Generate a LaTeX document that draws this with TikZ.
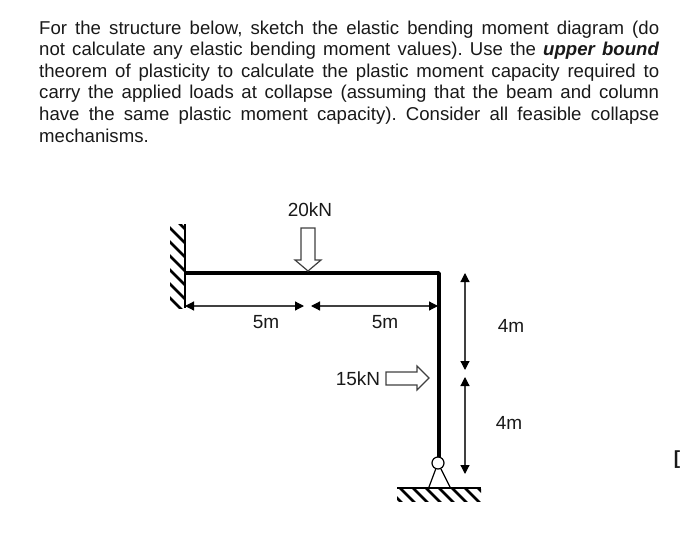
\documentclass[tikz,border=0pt]{standalone}
\usepackage{fontspec}
\setmainfont{Liberation Sans}
\usetikzlibrary{arrows.meta}

\tikzset{
  frame/.style={line width=3.4pt,line join=round},
  dim/.style={line width=1.2pt,draw=black!75,{Triangle[length=9pt,width=9pt,color=black]}-{Triangle[length=9pt,width=9pt,color=black]}},
  hatch/.style={line width=2.6pt},
  load/.style={line width=1.2pt,draw=black!75,fill=white,line join=miter},
  lbl/.style={font=\fontsize{19}{21}\selectfont,text=black!90,inner sep=0pt}
}

\begin{document}
\begin{tikzpicture}[x=1pt,y=-1pt]
      \useasboundingbox (0,0) rectangle (681,538);

      \node[anchor=north west,inner sep=0pt,text width=620pt,align=justify,text=black!90,
            font=\frenchspacing\fontsize{18.6}{21.6}\selectfont] (question) at (39,20.5)
        {For the structure below, sketch the elastic bending moment diagram (do\linebreak
         not calculate any elastic bending moment values). Use the \textbf{\textit{upper bound}}\linebreak
         theorem of plasticity to calculate the plastic moment capacity required to\linebreak
         carry the applied loads at collapse (assuming that the beam and column\linebreak
         have the same plastic moment capacity). Consider all feasible collapse\linebreak
         mechanisms.};

      \coordinate (wall-top)    at (185,224);
      \coordinate (wall-bot)    at (185,308);
      \coordinate (beam-left)   at (185,273);
      \coordinate (beam-right)  at (439,273);
      \coordinate (column-bot)  at (439,457);
      \node[draw,circle,line width=1.2pt,fill=white,minimum size=12pt,inner sep=0pt] (hinge) at (438,463) {};
      \coordinate (base-left)   at (429,487);
      \coordinate (base-right)  at (450,487);
      \coordinate (ground-left) at (397,488);
      \coordinate (ground-right) at (481,488);

      % wall and ground hatching
      \begin{scope}
        \clip (170,224) rectangle (185,308);
        \foreach \y in {212,226,...,310}
          \draw[hatch] (168,\y) -- (188,\y+20);
      \end{scope}
      \begin{scope}
        \clip (397,488) rectangle (481,501);
        \foreach \x in {385,398,...,484}
          \draw[hatch] (\x,486) -- (\x+18,504);
      \end{scope}
      \draw[line width=1.2pt] (wall-top) -- (wall-bot);
      \draw[line width=1.6pt] (ground-left) -- (ground-right);

      \draw[frame] (beam-left) -- (beam-right) -- (column-bot);
      \draw[line width=1.2pt,line join=round] (base-left) -- (hinge) -- (base-right);

      % dimensions
      \coordinate (dim-a) at (185,306);
      \coordinate (dim-b) at (304,306);
      \coordinate (dim-c) at (311,306);
      \coordinate (dim-d) at (438,306);
      \coordinate (dim-e) at (465,273);
      \coordinate (dim-f) at (465,370);
      \coordinate (dim-g) at (465,377);
      \coordinate (dim-h) at (465,474);
      \draw[dim] (dim-a) -- (dim-b);
      \draw[dim] (dim-c) -- (dim-d);
      \draw[dim] (dim-e) -- (dim-f);
      \draw[dim] (dim-g) -- (dim-h);

      % loads
      \draw[load] (301,228) -- (315,228) -- (315,260) -- (321,260) -- (308,271)
                  -- (295,260) -- (301,260) -- cycle;
      \draw[load] (386,372) -- (417,372) -- (417,366) -- (429,378) -- (417,390)
                  -- (417,385) -- (386,385) -- cycle;

      \node[lbl] (load-v)  at (310,210) {20kN};
      \node[lbl] (load-h)  at (358,379) {15kN};
      \node[lbl] (span-l)  at (266,322) {5m};
      \node[lbl] (span-r)  at (385,322) {5m};
      \node[lbl] (rise-t)  at (511,326) {4m};
      \node[lbl] (rise-b)  at (509,423) {4m};
      \node[lbl,font=\fontsize{19}{21}\selectfont\bfseries,anchor=east] (cut) at (680.5,460) {[};
    \end{tikzpicture}
\end{document}
